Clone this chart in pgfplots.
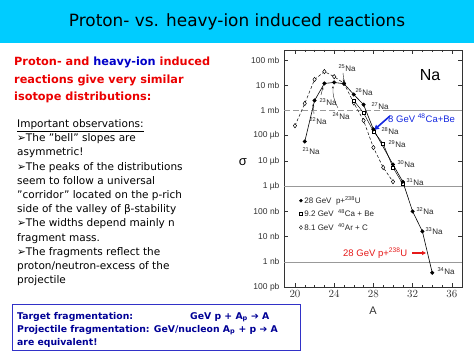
\documentclass[border=0pt]{standalone}
\usepackage{pgfplots}
\pgfplotsset{compat=1.18}
\usepackage{fontspec}
\setmainfont{DejaVu Sans}
\newfontfamily\plotfont{Liberation Sans}
\usetikzlibrary{arrows.meta}
\definecolor{titlecyan}{RGB}{0,204,255}
\definecolor{slidered}{RGB}{235,0,0}
\definecolor{slideblue}{RGB}{0,0,200}
\definecolor{boxblue}{RGB}{50,50,200}
\definecolor{boxtext}{RGB}{0,0,150}
\definecolor{arrblue}{RGB}{20,40,225}
\definecolor{arrred}{RGB}{230,25,25}
\newcommand{\fs}[1]{\fontsize{#1bp}{#1bp}\selectfont}
\newcommand{\iso}[2]{\textsuperscript{#1}#2}
\begin{document}
\begin{tikzpicture}
\path[use as bounding box, fill=white] (0,0) rectangle (474bp,355bp);
\begin{scope}[shift={(0bp,355bp)},x=1bp,y=-1bp]
\fill[titlecyan] (0,0) rectangle (474,43);
\node[font=\fs{16.9}, anchor=base, inner sep=0] at (237,26.5) {Proton- vs. heavy-ion induced reactions};
% red block
\begin{scope}[every node/.style={anchor=base west, inner sep=0, font=\bfseries\fs{11.3}, text=slidered}]
\node at (14,66) {Proton- and {\color{slideblue}heavy-ion} induced};
\node at (14,84) {reactions give very similar};
\node at (14,101) {isotope distributions:};
\end{scope}
% observations
\begin{scope}[every node/.style={anchor=base west, inner sep=0, font=\fs{10.5}}]
\node at (17,127.5) {\underline{Important observations:}};
\node at (17,141.5) {➢The "bell" slopes are};
\node at (17,155.5) {asymmetric!};
\node at (17,170.5) {➢The peaks of the distributions};
\node at (17,184.5) {seem to follow a universal};
\node at (17,198.5) {"corridor" located on the p-rich};
\node at (17,212.5) {side of the valley of β-stability};
\node at (17,226.5) {➢The widths depend mainly n};
\node at (17,241.5) {fragment mass.};
\node at (17,255.5) {➢The fragments reflect the};
\node at (17,269.5) {proton/neutron-excess of the};
\node at (17,283.5) {projectile};
\end{scope}
% bottom box
\draw[boxblue, line width=1pt] (12,305) rectangle (300,351);
\begin{scope}[every node/.style={anchor=base west, inner sep=0, font=\bfseries\fs{9.3}, text=boxtext}]
\node at (17,319.5) {Target fragmentation:};
\node at (190,319.5) {GeV p + A\textsubscript{p} ➔ A};
\node at (17,332.5) {Projectile fragmentation: GeV/nucleon A\textsubscript{p} + p ➔ A};
\node at (17,346) {are equivalent!};
\end{scope}
% plot annotations
\node[font=\plotfont\fs{13}] at (243,162) {σ};
\node[font=\plotfont\fs{11}, text=black!80] at (373,311) {A};
\node[font=\plotfont\fs{16}] at (430,75) {Na};
\begin{scope}[every node/.style={font=\plotfont\fs{8}, inner sep=0, text=black!85}]
\node at (347,68) {\iso{25}{Na}};
\node at (328,102) {\iso{23}{Na}};
\node at (341,116) {\iso{24}{Na}};
\node at (318,121) {\iso{22}{Na}};
\node at (311,151) {\iso{21}{Na}};
\node at (364,92) {\iso{26}{Na}};
\node at (380,106) {\iso{27}{Na}};
\node at (390,131) {\iso{28}{Na}};
\node at (397,144) {\iso{29}{Na}};
\node at (406,164) {\iso{30}{Na}};
\node at (415,182) {\iso{31}{Na}};
\node at (425,211) {\iso{32}{Na}};
\node at (434,231) {\iso{33}{Na}};
\node at (446,271) {\iso{34}{Na}};
\end{scope}
\begin{scope}[black!85, line width=0.4pt, -{Stealth[length=2.5bp,width=2bp]}]
\draw (343,73) -- (344,82);
\draw (321,95) -- (323,87);
\draw (338,108) to[bend left=15] (333,86);
\draw (314,114) -- (313,104);
\end{scope}
\draw[arrblue, line width=1.6pt, -{Triangle[length=5bp,width=5bp]}] (390,116) -- (374,130);
\node[font=\plotfont\fs{9.5}, text=arrblue, anchor=west, inner sep=0] at (388,118) {8 GeV \textsuperscript{48}Ca+Be};
\node[font=\plotfont\fs{9.5}, text=arrred, anchor=west, inner sep=0] at (343,253) {28 GeV p+\textsuperscript{238}U};
\draw[arrred, line width=1.4pt, -{Triangle[length=4bp,width=4bp]}] (412,253) -- (426,253);
\end{scope}
\begin{axis}[
  at={(284bp,68bp)}, anchor=south west,
  scale only axis, width=178bp, height=237bp,
  xmin=18.88, xmax=37.04,
  ymode=log, ymin=1e-7, ymax=251,
  xtick={20,24,28,32,36},
  minor x tick num=3,
  ytick={1e-7,1e-6,1e-5,1e-4,1e-3,1e-2,1e-1,1,10,100},
  yticklabels={100 pb,1 nb,10 nb,100 nb,1 µb,10 µb,100 µb,1 mb,10 mb,100 mb},
  yminorticks=false,
  tick align=inside,
  major tick length=4bp, minor tick length=2.5bp,
  every tick/.style={black!80, line width=0.5pt},
  axis line style={black!80, line width=0.6pt},
  yticklabel style={font=\plotfont\fs{8.5}, text=black!80, xshift=-1bp},
  xticklabel style={font=\plotfont\fs{10.5}, text=black!80},
  legend style={at={(0.08,0.395)}, anchor=north west, draw=none, fill=none,
     font=\plotfont\fs{8}, text=black!85, row sep=1.2bp, inner sep=1bp},
  legend cell align=left,
]
\addplot[gray!80, line width=0.5pt, dash pattern=on 6bp off 3bp, forget plot] coordinates {(18.88,1) (29.4,1)};
\addplot[gray!80, line width=0.5pt, forget plot] coordinates {(29.4,1) (37.04,1)};
\addplot[gray!80, line width=0.5pt, forget plot] coordinates {(18.88,1e-3) (37.04,1e-3)};
\addplot[gray!80, line width=0.5pt, forget plot] coordinates {(18.88,1e-6) (37.04,1e-6)};
% 8.1 GeV 40Ar + C
\addplot[black, line width=0.5pt, dash pattern=on 3bp off 2bp, mark=diamond*, mark size=2.2bp,
  mark options={solid, fill=white}, forget plot] coordinates {
 (20,0.25) (21,1.9) (22,17) (23,35) (24,22) (25,12) (26,2.0) (27,0.4) (28,0.034) (29,0.0055) (30,0.0015)};
% 9.2 GeV 48Ca + Be
\addplot[black, line width=0.45pt, mark=square*, mark size=1.5bp, mark options={fill=white}, forget plot] coordinates {
 (26,2.5) (27,0.8) (28,0.15) (29,0.048) (30,0.0055) (31,0.0012)};
% 28 GeV p + 238U
\addplot[black, line width=0.6pt, mark=*, mark size=1.7bp, forget plot] coordinates {
 (21,0.059) (22,2.5) (23,11.8) (24,13) (25,11.5) (26,4.3) (27,1.7) (28,0.18) (30,0.0072) (31,0.0015) (32,1e-4) (33,1.6e-5) (34,3.7e-7)};
\addlegendimage{only marks, mark=*, mark size=1.5bp, black}
\addlegendentry{28 GeV \ p+\textsuperscript{238}U}
\addlegendimage{only marks, mark=square*, mark size=1.4bp, black, mark options={fill=white}}
\addlegendentry{9.2 GeV \ \textsuperscript{48}Ca + Be}
\addlegendimage{only marks, mark=diamond*, mark size=2bp, black, mark options={fill=white}}
\addlegendentry{8.1 GeV \ \textsuperscript{40}Ar + C}
\end{axis}
\end{tikzpicture}
\end{document}
